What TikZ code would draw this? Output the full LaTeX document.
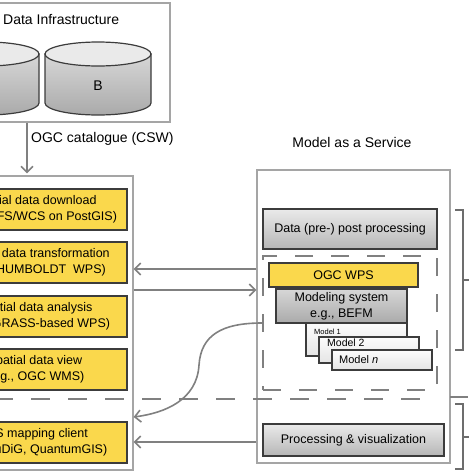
\documentclass[tikz,border=0pt]{standalone}
\usepackage{fontspec}
\setmainfont{Liberation Sans}
\usetikzlibrary{arrows.meta}
\definecolor{yfill}{RGB}{250,216,76}
\definecolor{edgec}{RGB}{60,60,60}
\definecolor{connc}{RGB}{128,128,128}
\definecolor{outc}{RGB}{165,165,165}
\definecolor{gtop}{RGB}{234,234,234}
\definecolor{gbot}{RGB}{182,182,182}
\definecolor{gtop2}{RGB}{215,215,215}
\definecolor{gbot2}{RGB}{170,170,170}
\definecolor{wtop}{RGB}{252,252,252}
\definecolor{wbot}{RGB}{228,228,228}
\newcommand{\bigf}{\fontsize{14}{17}\selectfont}
\newcommand{\boxf}{\fontsize{12.5}{16}\selectfont}
\tikzset{
  outbox/.style={draw=outc, line width=1.2pt, inner sep=0pt},
  ybox/.style={draw=edgec, line width=1.6pt, fill=yfill, minimum width=184pt, minimum height=41pt, align=center, font=\boxf, inner sep=0pt},
  gbox/.style={draw=edgec, line width=1.3pt, top color=gtop, bottom color=gbot, align=center, font=\boxf, inner sep=0pt},
  gboxdark/.style={draw=edgec, line width=1.3pt, top color=gtop2, bottom color=gbot2, align=center, font=\boxf, inner sep=0pt},
  wbox/.style={draw=edgec, line width=1.1pt, top color=wtop, bottom color=wbot, inner sep=0pt},
  dashbox/.style={draw=connc, line width=1.8pt, dash pattern=on 18pt off 18pt, inner sep=0pt},
  dashline/.style={draw=connc, line width=1.8pt, dash pattern=on 19pt off 18pt},
  conn/.style={draw=connc, line width=1.6pt, -{Straight Barb[length=6pt,width=12pt]}},
  bracket/.style={draw=connc!85!black, line width=1.2pt},
  cyl/.pic={
    \path[draw=edgec, line width=1.2pt, top color=gtop2, bottom color=gbot2]
      (-53,0) -- (-53,49) .. controls (-53,55.6) and (-29.3,61) .. (0,61)
      .. controls (29.3,61) and (53,55.6) .. (53,49) -- (53,0) -- cycle;
    \path[draw=edgec, line width=1.2pt, fill=gtop] (0,0) ellipse [x radius=53pt, y radius=12pt];
  }
}
\begin{document}
\begin{tikzpicture}[x=1pt,y=-1pt]
\useasboundingbox (0,0) rectangle (474,474);
\clip (0,0) rectangle (474,474);
\fill[white] (0,0) rectangle (474,474);

% Data infrastructure
\node[outbox, minimum width=230pt, minimum height=119pt] (infra) at (55,62.5) {};
\node[anchor=west, font=\bigf, inner sep=0pt] (infratitle) at (3,20) {Data Infrastructure};
\pic at (-14,54) {cyl};
\pic at (98,54) {cyl};
\node[font=\bigf] (blabel) at (98,86) {B};

% left column
\node[outbox, minimum width=193pt, minimum height=294pt] (leftbox) at (36.5,323) {};
\node[ybox] (sdl) at (35,209.5) {Spatial data download\\(e.g., WFS/WCS on PostGIS)};
\node[ybox] (sdt) at (35,262.5) {Spatial data transformation\\(e.g., HUMBOLDT\ \ WPS)};
\node[ybox] (sda) at (35,316.5) {Spatial data analysis\\(e.g., GRASS-based WPS)};
\node[ybox] (sdv) at (35,369.5) {Spatial data view\\(e.g., OGC WMS)};
\node[ybox] (gis) at (35,442.5) {GIS mapping client\\(e.g., uDiG, QuantumGIS)};

% catalogue
\coordinate (catx) at (27,0);
\draw[conn] (infra.south -| catx) -- ([yshift=2pt]leftbox.north -| catx);
\node[anchor=west, font=\bigf, inner sep=0pt] (catlabel) at (31,139) {OGC catalogue (CSW)};

% right column
\node[font=\bigf] (maas) at (352,142) {Model as a Service};
\node[outbox, minimum width=193pt, minimum height=293pt] (rightbox) at (353.5,316.5) {};
\node[gbox, minimum width=174pt, minimum height=40pt] (pre) at (350,229) {Data (pre-) post processing};
\node[dashbox, minimum width=174pt, minimum height=134pt] (dbox) at (350,323) {};
\node[draw=edgec, line width=1.6pt, fill=yfill, minimum width=149pt, minimum height=24pt, font=\boxf, inner sep=0pt] (wps) at (343.5,275) {OGC WPS};
\node[wbox, minimum width=101pt, minimum height=33pt] (m1) at (356.5,339.5) {};
\node[anchor=west, font=\fontsize{7.5}{9}\selectfont, inner sep=0pt] (m1t) at (314,331.5) {Model 1};
\node[wbox, minimum width=100pt, minimum height=26pt] (m2) at (369,350) {};
\node[anchor=west, font=\fontsize{10.5}{12}\selectfont, inner sep=0pt] (m2t) at (327,343) {Model 2};
\node[wbox, minimum width=100pt, minimum height=20pt] (mn) at (382,360) {};
\node[anchor=west, font=\fontsize{11}{13}\selectfont, inner sep=0pt] (mnt) at (339,360) {Model \textit{n}};
\node[gboxdark, minimum width=131pt, minimum height=34pt] (modsys) at (341.5,306) {Modeling system\\e.g., BEFM};
\node[gbox, minimum width=181pt, minimum height=32pt] (proc) at (353.5,440) {Processing \& visualization};

% connectors
\coordinate (r1) at (0,269);
\coordinate (r2) at (0,290);
\coordinate (r3) at (0,417);
\coordinate (r4) at (0,442);
\draw[conn] (rightbox.west |- r1) -- (leftbox.east |- r1);
\draw[conn] (leftbox.east |- r2) -- (rightbox.west |- r2);
\draw[conn] (dbox.west) .. controls (222,323) and (201,335) .. (199,365)
  .. controls (197,400) and (165,413) .. (leftbox.east |- r3);
\draw[conn] (rightbox.west |- r4) -- (leftbox.east |- r4);

% dashed separator
\coordinate (dl) at (-6,399);
\coordinate (dr) at (432,399);
\draw[dashline] (dl) -- (dr);

% brackets
\coordinate (s1) at (450,397);
\coordinate (s2) at (468,397);
\draw[connc, line width=1.3pt] (s1) -- (s2);
\draw[bracket] (455,210) -- (463,210) -- (463,350) -- (455,350);
\draw[bracket] (463,280) -- (469,280);
\draw[bracket] (455,404) -- (463,404) -- (463,469) -- (455,469);
\draw[bracket] (463,437) -- (469,437);
\end{tikzpicture}
\end{document}
